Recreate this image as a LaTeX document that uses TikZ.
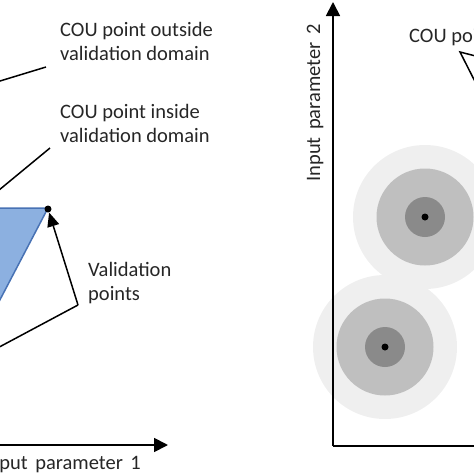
\documentclass[tikz,border=0pt]{standalone}
\usepackage{fontspec}
\setmainfont{Carlito}
\usetikzlibrary{arrows.meta,positioning}

\definecolor{domfill}{RGB}{140,176,224}
\definecolor{domline}{RGB}{72,114,180}
\definecolor{haloA}{RGB}{239,239,239}
\definecolor{haloB}{RGB}{191,191,191}
\definecolor{haloC}{RGB}{138,138,138}

\tikzset{
  lbl/.style={font=\fontsize{20.5}{24}\selectfont,align=left,inner sep=0pt,text=black!85},
  axlbl/.style={lbl,font={\fontsize{20.5}{24}\selectfont\spaceskip=7.5pt plus 1pt\relax}},
  axis/.style={line width=1.8pt,-{Triangle[length=14pt,width=14pt]}},
  leader/.style={line width=1.5pt},
  vdot/.style={circle,fill=black,inner sep=0pt,minimum size=7pt},
}

\begin{document}
\begin{tikzpicture}[x=1pt,y=-1pt]
  \useasboundingbox (0,0) rectangle (474,474);
  \clip (0,0) rectangle (474,474);

  % left panel
  \fill[domfill,draw=domline,line width=1.5pt] (-60,208) -- (48,208) -- (-8,315) -- cycle;
  \node[vdot] (vp1) at (48,209) {};
  \coordinate (vp2) at (-40,368);
  \coordinate (bend) at (78,305);

  \node[lbl,anchor=base west] (cou-out) at (60,60) {COU point outside\\validation domain};
  \node[lbl,anchor=base west] (cou-in) at (60,142) {COU point inside\\validation domain};
  \node[lbl,anchor=base west] (valpts) at (88,300) {Validation\\points};

  \coordinate (l-out) at (46,67);
  \coordinate (p-out) at (-46,95);
  \coordinate (l-in) at (50,148);
  \coordinate (p-in) at (-30,214);
  \draw[leader] (l-out) -- (p-out);
  \draw[leader] (l-in) -- (p-in);
  \draw[leader] (vp2) -- (bend);
  \draw[leader,-{Triangle[length=14pt,width=12pt]}] (bend) -- (vp1);

  \coordinate (o1) at (-80,445);
  \coordinate (x1) at (168,445);
  \draw[axis] (o1) -- (x1);
  \node[axlbl,anchor=base east] (in1) at (141,469) {Input parameter 1};

  % right panel
  \foreach \cx/\cy/\nm in {425/217/hu,385/347/hl} {
    \fill[haloA] (\cx,\cy) circle (72);
  }
  \foreach \cx/\cy/\nm in {425/217/hu,385/347/hl} {
    \fill[haloB] (\cx,\cy) circle (48.5);
    \fill[haloC] (\cx,\cy) circle (20);
    \node[vdot] (\nm) at (\cx,\cy) {};
  }

  \coordinate (o2) at (333,446);
  \coordinate (y2) at (333,2);
  \coordinate (x2) at (520,446);
  \draw[line width=1.8pt] (x2) -- (o2);
  \draw[axis] (o2) -- (y2);
  \node[axlbl,rotate=90] (in2) at (315,103) {Input parameter 2};

  \node[lbl,anchor=base west] (cou-r) at (409,42) {COU point};
  \coordinate (apex) at (460,52);
  \draw[leader] (495,61) -- (apex) -- (492,115);
\end{tikzpicture}
\end{document}
